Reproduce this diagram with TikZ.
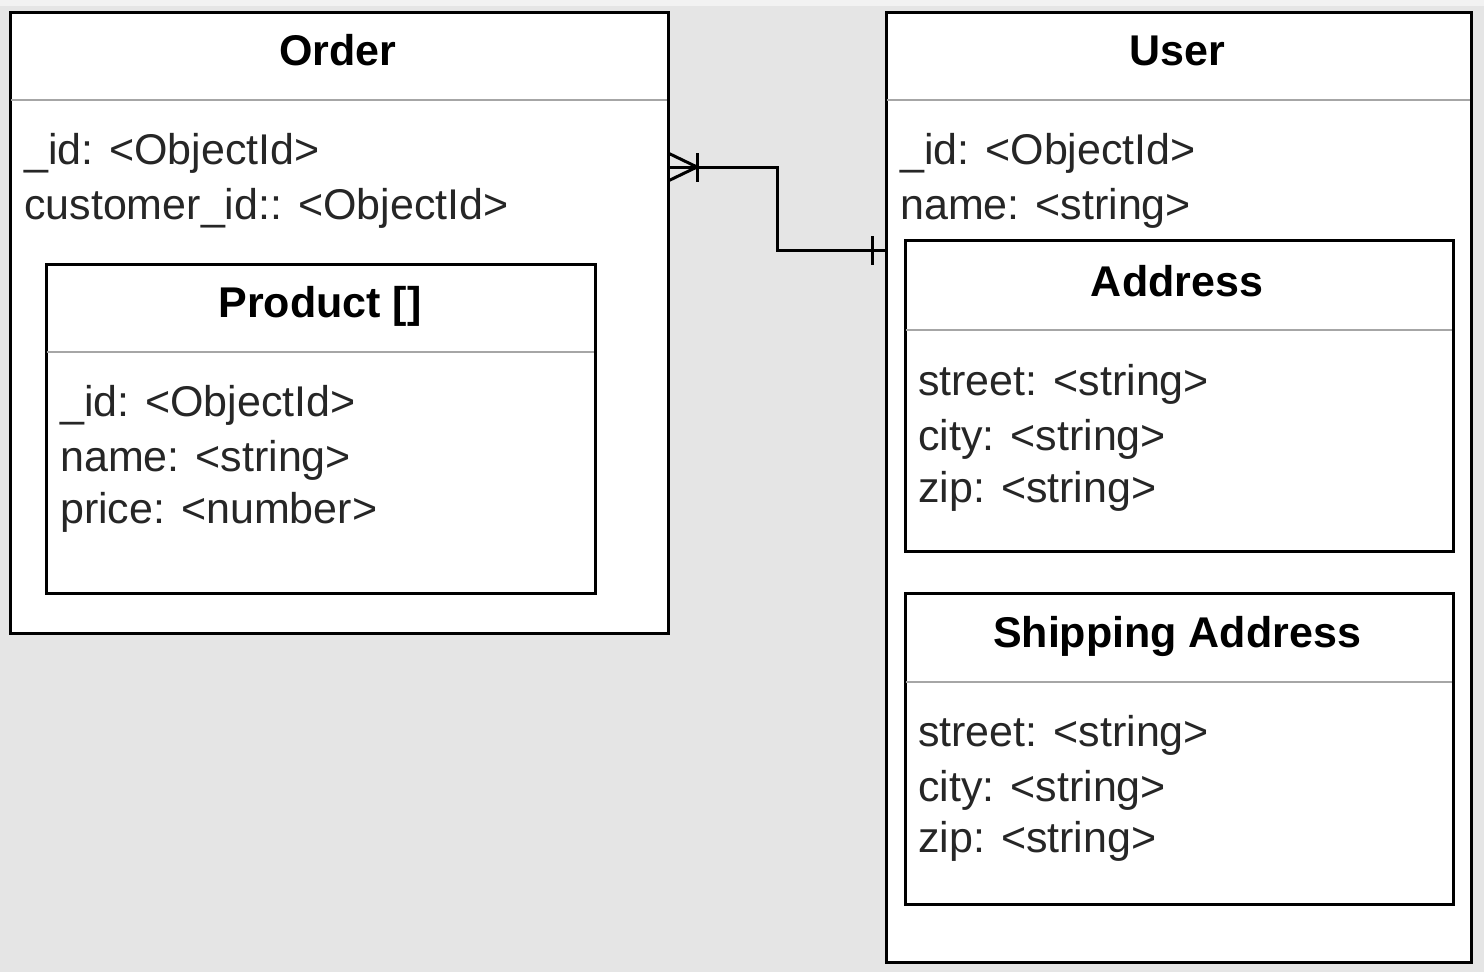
\documentclass[tikz,border=0pt]{standalone}
\usepackage{fontspec}
\setmainfont{Liberation Sans}
\begin{document}
\begin{tikzpicture}[x=1pt,y=-1pt,
  box/.style={draw=black,line width=3pt,fill=white,anchor=north west,inner sep=0pt,outer sep=0pt},
  sep/.style={draw=black!35,line width=2pt},
  hdr/.style={anchor=base,font=\fontsize{43}{50}\selectfont\bfseries,inner sep=0pt},
  fld/.style={anchor=base west,font=\fontsize{43}{50}\selectfont,text=black!85,inner sep=0pt},
  conn/.style={draw=black,line width=3pt}]
\useasboundingbox (0,0) rectangle (1484,972);
\fill[black!10] (0,0) rectangle (1484,972);
\fill[black!5] (0,0) rectangle (1484,6);
% Order
\node[box,minimum width=658pt,minimum height=621pt] (order) at (10,12) {};
\draw[sep] (11,100) -- (667,100);
\node[hdr] (orderT) at (338,65) {Order};
\node[fld] (o1) at (24,164) {\_id: <ObjectId>};
\node[fld] (o2) at (24,219) {customer\_id:: <ObjectId>};
% Product
\node[box,minimum width=549pt,minimum height=329pt] (prod) at (46,264) {};
\draw[sep] (47,352) -- (594,352);
\node[hdr] (prodT) at (320,317) {Product []};
\node[fld] (p1) at (60,416) {\_id: <ObjectId>};
\node[fld] (p2) at (60,471) {name: <string>};
\node[fld] (p3) at (60,523) {price: <number>};
% User
\node[box,minimum width=585pt,minimum height=950pt] (user) at (886,12) {};
\draw[sep] (887,100) -- (1470,100);
\node[hdr] (userT) at (1177,65) {User};
\node[fld] (u1) at (900,164) {\_id: <ObjectId>};
\node[fld] (u2) at (900,219) {name: <string>};
% Address
\node[box,minimum width=548pt,minimum height=311pt] (addr) at (905,240) {};
\draw[sep] (906,330) -- (1452,330);
\node[hdr] (addrT) at (1177,296) {Address};
\node[fld] (a1) at (918,395) {street: <string>};
\node[fld] (a2) at (918,450) {city: <string>};
\node[fld] (a3) at (918,502) {zip: <string>};
% Shipping Address
\node[box,minimum width=548pt,minimum height=311pt] (ship) at (905,593) {};
\draw[sep] (906,682) -- (1452,682);
\node[hdr] (shipT) at (1177,647) {Shipping Address};
\node[fld] (s1) at (918,746) {street: <string>};
\node[fld] (s2) at (918,801) {city: <string>};
\node[fld] (s3) at (918,852) {zip: <string>};
% connector
\coordinate (oc) at (order.east |- 0,167);
\coordinate (uc) at (user.west |- 0,250);
\coordinate (mid) at (777,167);
\draw[conn] (oc) -- (mid) |- (uc);
% crow's foot (many) at Order
\draw[conn] (order.east |- 0,153) -- (697,167) -- (order.east |- 0,181);
\draw[conn] (697,153) -- (697,182);
% one bar at User
\draw[conn] (872,236) -- (872,265);
\end{tikzpicture}
\end{document}
